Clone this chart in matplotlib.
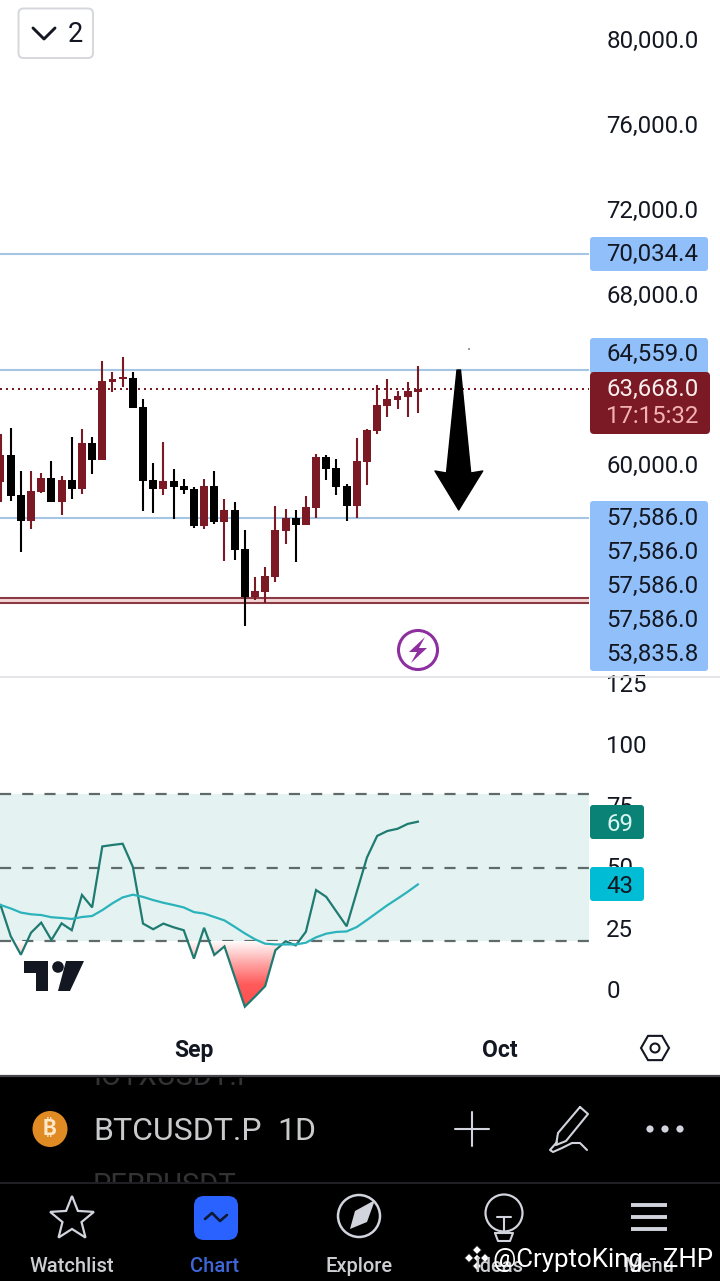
import numpy as np
import matplotlib; matplotlib.use('Agg')
import matplotlib.pyplot as plt
from matplotlib.colors import LinearSegmentedColormap
from matplotlib.patches import Circle, FancyBboxPatch, Polygon, Rectangle, RegularPolygon, Ellipse
from matplotlib.path import Path
from matplotlib.transforms import ScaledTranslation
plt.rcParams['font.family'] = ['Roboto', 'DejaVu Sans']

# daily candles
opens = [59305, 60560, 58680, 57470, 58835, 59480, 58365, 59385, 58975, 61125, 60340, 64010, 64150, 64185,
         62820, 59385, 58975, 59335, 59100, 58960, 57235, 59100, 57420, 57970, 56135, 53895, 54130, 54835,
         57000, 57595, 57280, 58080, 60465, 59950, 59100, 58175, 60245, 61705, 62880, 63165, 63305, 63540]
highs = [61550, 61815, 59805, 59805, 59700, 60280, 59570, 61405, 61785, 61405, 64985, 64465, 65170, 64465,
         63180, 60185, 61170, 59900, 59430, 59055, 59430, 59805, 58490, 58350, 57030, 54820, 55290, 58160,
         58020, 57970, 58630, 60605, 60560, 60370, 59195, 61360, 61785, 63855, 64135, 63570, 63995, 64750]
lows = [58365, 58410, 56010, 57095, 58790, 58365, 57750, 58505, 58740, 59680, 60340, 63540, 63775, 62790,
        57940, 57845, 58695, 57565, 58740, 57140, 57095, 57330, 55590, 55635, 52530, 53755, 53610, 54600,
        56390, 55540, 57280, 57610, 59400, 58695, 57470, 57610, 59165, 61565, 62365, 62740, 62365, 62555]
closes = [60560, 58645, 57470, 58865, 59480, 58365, 59385, 58975, 61125, 60340, 64045, 64135, 64230, 62790,
          59350, 58975, 59335, 59070, 58930, 57235, 59100, 57420, 57970, 56105, 53895, 54160, 54865, 57030,
          57595, 57280, 58115, 60465, 59915, 59070, 58175, 60280, 61735, 62915, 63195, 63335, 63570, 63668]
rsi = [34.7, 22.0, 14.4, 23.4, 27.5, 20.4, 27.2, 24.4, 38.8, 33.7, 58.6, 59.2, 59.7, 50.3, 27.1, 24.8, 27.1, 25.6,
       24.4, 12.8, 25.4, 14.3, 17.8, 5.4, -6.8, -2.7, 1.6, 16.2, 19.9, 18.2, 23.8, 40.8, 38.0, 32.0, 26.0, 40.1,
       54.1, 62.9, 64.9, 65.8, 67.8, 68.7]
rsi_ma = [34.7, 33.3, 31.6, 30.9, 30.6, 29.7, 29.4, 29.0, 29.8, 30.2, 32.6, 35.4, 37.8, 38.9, 38.0, 36.7, 35.6, 34.7,
          33.7, 31.8, 31.2, 29.8, 28.4, 25.8, 23.1, 20.7, 18.9, 18.6, 18.6, 18.6, 19.3, 21.5, 23.0, 23.7, 23.9, 25.7,
          28.6, 31.6, 34.6, 37.3, 40.1, 43.1]
price_ticks = [60000, 68000, 72000, 76000, 80000]
rsi_ticks = [0, 25, 50, 75, 100, 125]
blue_levels = [70034.4, 64559.0, 57586.0]
zone_levels = [53835.8, 53600.0]
last_price = 63668.0
month_pos = [19, 49]; month_names = ['Sep', 'Oct']
nav_labels = ['Watchlist', 'Chart', 'Explore', 'Ideas', 'Menu']
MAROON = '#7b1a24'; BLUE_LINE = '#a5c6e2'; BADGE = '#90bff9'; TXT = '#131722'

fig = plt.figure(figsize=(7.2, 12.81), dpi=100, facecolor='white')
W, H = 720, 1281
ax = fig.add_axes([0, 1 - 676 / H, 589 / W, 676 / H])
rs = fig.add_axes([0, 1 - 1020 / H, 589 / W, 343 / H])
ov = fig.add_axes([0, 0, 1, 1], zorder=5); ov.set_xlim(0, W); ov.set_ylim(H, 0); ov.axis('off'); ov.patch.set_alpha(0)

# candles
x = np.arange(len(opens)); o, h, l, c = map(np.array, (opens, highs, lows, closes))
col = [MAROON if b >= a else 'black' for a, b in zip(o, c)]
for lev in blue_levels: ax.axhline(lev, color=BLUE_LINE, lw=1.5, zorder=1)
ax.axhspan(zone_levels[1], zone_levels[0], color='#f4d6d6', lw=0, zorder=1)
for lev in zone_levels: ax.axhline(lev, color='#8a3a44', lw=1.5, zorder=1)
ax.axhline(last_price, color=MAROON, lw=1.44, dashes=(1, 2), zorder=1)
ax.vlines(x, l, h, colors=col, lw=1.5, zorder=2)
ax.bar(x, np.maximum(np.abs(c - o), 60), bottom=np.minimum(o, c), width=0.78, color=col, zorder=3)
ax.set_xlim(-0.05, 57.81); ax.set_ylim(50161, 81973)
ax.yaxis.tick_right(); ax.set_yticks(price_ticks); ax.set_yticklabels([f'{t:,.1f}' for t in price_ticks])
ax.tick_params(axis='y', length=0, pad=12.5, labelsize=17.3, labelcolor=TXT); ax.set_xticks([])
for s in ax.spines.values(): s.set_visible(False)
for lb in ax.get_yticklabels(): lb.set_transform(lb.get_transform() + ScaledTranslation(0, 2 / 72, fig.dpi_scale_trans))

# rsi panel
rs.axhspan(20, 80, color='#e4f3f1', lw=0, zorder=0)
for lev in [20, 50, 80]: rs.axhline(lev, color='#5f6b6a', lw=1.6, dashes=(5, 5), zorder=1)
poly = rs.fill_between(x, rsi, 20, where=np.array(rsi) < 20, interpolate=True, color='none')
cm = LinearSegmentedColormap.from_list('rd', ['#ff5050', '#ff5a5a', '#ffa8a8', '#ffffff'])
img = rs.imshow(np.linspace(0, 1, 64)[:, None], extent=(-1, 45, -7, 20), origin='lower', aspect='auto', cmap=cm, zorder=2)
img.set_clip_path(Path.make_compound_path(*poly.get_paths()), rs.transData)
rs.plot(x, rsi, color='#1f7b72', lw=1.6, zorder=3, solid_joinstyle='miter')
rs.plot(x, rsi_ma, color='#2bb3bb', lw=1.6, zorder=4)
rs.set_xlim(-0.05, 57.81); rs.set_ylim((990 - 1020) / 2.45, (990 - 677) / 2.45)
rs.yaxis.tick_right(); rs.set_yticks(rsi_ticks)
rs.tick_params(axis='y', length=0, pad=12.5, labelsize=17.3, labelcolor=TXT)
rs.set_xticks(month_pos); rs.set_xticklabels(month_names, fontweight='bold', fontsize=16.5, color=TXT)
rs.tick_params(axis='x', length=0, pad=13.5)
for s in rs.spines.values(): s.set_visible(False)
rs.patch.set_alpha(0)
for lb in rs.get_yticklabels(): lb.set_transform(lb.get_transform() + ScaledTranslation(0, 0.8 / 72, fig.dpi_scale_trans))

# overlay furniture
def box(x0, y0, x1, y1, fc, r=3, ec='none', lw=0):
    ov.add_patch(FancyBboxPatch((x0 + r, y0 + r), x1 - x0 - 2 * r, y1 - y0 - 2 * r, boxstyle=f'round,pad={r}', fc=fc, ec=ec, lw=lw))
def label(px, py, s, color=TXT, size=17.3, ha='left', **kw):
    ov.text(px, py, s, color=color, fontsize=size, ha=ha, va='center_baseline', **kw)
def stroke(xs, ys, color='#d1d4dc', lw=1.5):
    ov.plot(xs, ys, color=color, lw=lw, solid_capstyle='round', solid_joinstyle='round')

ov.plot([0, W], [676.5, 676.5], color='#dfe1e6', lw=1.2)
box(18.5, 8.5, 93, 58, 'white', r=5, ec='#d5d7dc', lw=1.4)
stroke([33, 44, 55], [28, 39, 28], TXT, 2.1); label(68, 32, '2', size=19.5)
# price badges
box(590, 237, 708, 271, BADGE); label(606, 251.5, f'{blue_levels[0]:,.1f}')
box(590, 338, 708, 374, BADGE); label(606, 352, f'{blue_levels[1]:,.1f}')
box(590, 372, 710, 434, MAROON, r=4); label(606, 386.5, f'{last_price:,.1f}', color='#fbeeee'); label(606, 414, '17:15:32', color='#f2b2b6')
box(590, 501, 708, 671, BADGE)
for yy, v in zip([515.5, 549.5, 583.5, 617.5, 651.5], [57586.0, 57586.0, 57586.0, 57586.0, 53835.8]): label(606, yy, f'{v:,.1f}')
box(590, 805, 644, 839, '#0b8276'); label(606, 822, '69', color='#d8f5f0')
box(590, 867, 644, 901, '#00bcd4'); label(606, 884, '43')
# hand drawn arrow, the stray dot and the lightning badge
ov.add_patch(Polygon([(457, 370), (460.5, 370), (470.7, 473), (482.7, 471), (458.7, 510), (435, 471), (446.5, 473)], fc='black', ec='black', lw=1, joinstyle='round'))
ov.add_patch(Circle((469, 349), 0.7, fc='black'))
ov.add_patch(Circle((418, 650), 19.5, fc='white', ec='#8e2fa0', lw=2.2))
ov.add_patch(Polygon([(425, 637), (409, 652), (417, 652), (411, 663), (427, 648), (419, 648)], fc='#8e2fa0'))
# tradingview mark
ov.add_patch(Polygon([(24, 961), (48, 961), (48, 991), (36, 991), (36, 973), (24, 973)], fc=TXT))
ov.add_patch(Circle((58, 967), 5.8, fc=TXT))
ov.add_patch(Polygon([(66, 961), (84, 961), (70, 991), (58, 991)], fc=TXT))
# settings hexagon
ov.add_patch(RegularPolygon((655, 1048), 6, radius=14, orientation=np.pi / 6, fc='none', ec=TXT, lw=1.5))
ov.add_patch(Circle((655, 1048), 4.5, fc='none', ec=TXT, lw=1.5))

# bottom black bar
ov.add_patch(Rectangle((0, 1076), W, H - 1076, fc='black'))
ov.plot([0, W], [1076, 1076], color='#45474d', lw=1.6)
t1 = ov.text(93, 1085, 'IOTXUSDT.P', color='#333336', fontsize=21, ha='left', va='baseline', clip_on=True)
t1.set_clip_path(Rectangle((0, 1078), W, 30, transform=ov.transData))
t2 = ov.text(93, 1194, 'PERPUSDT', color='#333336', fontsize=21, ha='left', va='baseline', clip_on=True)
t2.set_clip_path(Rectangle((0, 1160), W, 21.5, transform=ov.transData))
ov.plot([0, W], [1183, 1183], color='#26272b', lw=1.2)
ov.add_patch(Ellipse((50, 1129), 35, 36, fc='#e08a24'))
ov.text(50, 1129, '₿', color='#fde8c8', fontsize=15, fontweight='bold', ha='center', va='center',
        family=['Inter', 'Noto Sans', 'Open Sans', 'Lato', 'Liberation Sans', 'DejaVu Sans'])
label(93, 1129, 'BTCUSDT.P', color='#c9cacc', size=23); label(277, 1129, '1D', color='#c9cacc', size=23)
stroke([455, 489], [1129, 1129]); stroke([472, 472], [1112, 1146])
# pen
stroke([580, 588, 566, 556, 558, 580], [1107, 1114, 1141, 1145, 1133, 1107])
stroke([557, 550, 553, 562, 572, 580, 587], [1142, 1150, 1152, 1148, 1143, 1143, 1150])
for dx in [650, 665, 680]: ov.add_patch(Circle((dx, 1129), 3.6, fc='#d1d4dc'))
# nav icons
ang = np.deg2rad(-90 + np.arange(10) * 36); rad = np.where(np.arange(10) % 2 == 0, 23, 10)
ov.add_patch(Polygon(np.c_[72 + rad * np.cos(ang), 1219 + rad * np.sin(ang)], fc='none', ec='#d1d4dc', lw=1.6))
box(194, 1196, 238, 1240, '#2962ff', r=10)
stroke([205, 212, 220, 227], [1219, 1213, 1221, 1215], '#0e1a33', 1.9)
ov.add_patch(Circle((359, 1216), 21, fc='none', ec='#d1d4dc', lw=1.8))
ov.add_patch(Polygon([(375, 1200), (367, 1222), (350, 1229), (355, 1211)], fc='#d1d4dc'))
ov.add_patch(Circle((504, 1213), 18.5, fc='none', ec='#d1d4dc', lw=1.6))
stroke([497, 511], [1217, 1217]); stroke([504, 504], [1217, 1233]); stroke([495, 513, 510, 498, 495], [1233, 1233, 1241, 1241, 1233])
for hy in [1205, 1217, 1229]: ov.plot([631, 667], [hy, hy], color='#d1d4dc', lw=2.8, solid_capstyle='butt')
for nx, name in zip([72, 215, 359, 499, 649], nav_labels):
    label(nx, 1264, name, color='#3f66d6' if name == 'Chart' else '#cdced2', size=14.5, ha='center', fontweight='medium')
# watermark
label(493, 1258, '@CryptoKing - ZHP', color='white', size=18.6)
for dx, dy in [(477, 1250), (469, 1258), (485, 1258), (477, 1266)]:
    ov.add_patch(RegularPolygon((dx, dy), 4, radius=4.5, fc='white', ec='black', lw=0.5))
ov.add_patch(RegularPolygon((477, 1258), 4, radius=3.2, fc='white'))
ov.set_xlim(0, W); ov.set_ylim(H, 0)
fig.savefig('out.png', dpi=100, facecolor='white')
